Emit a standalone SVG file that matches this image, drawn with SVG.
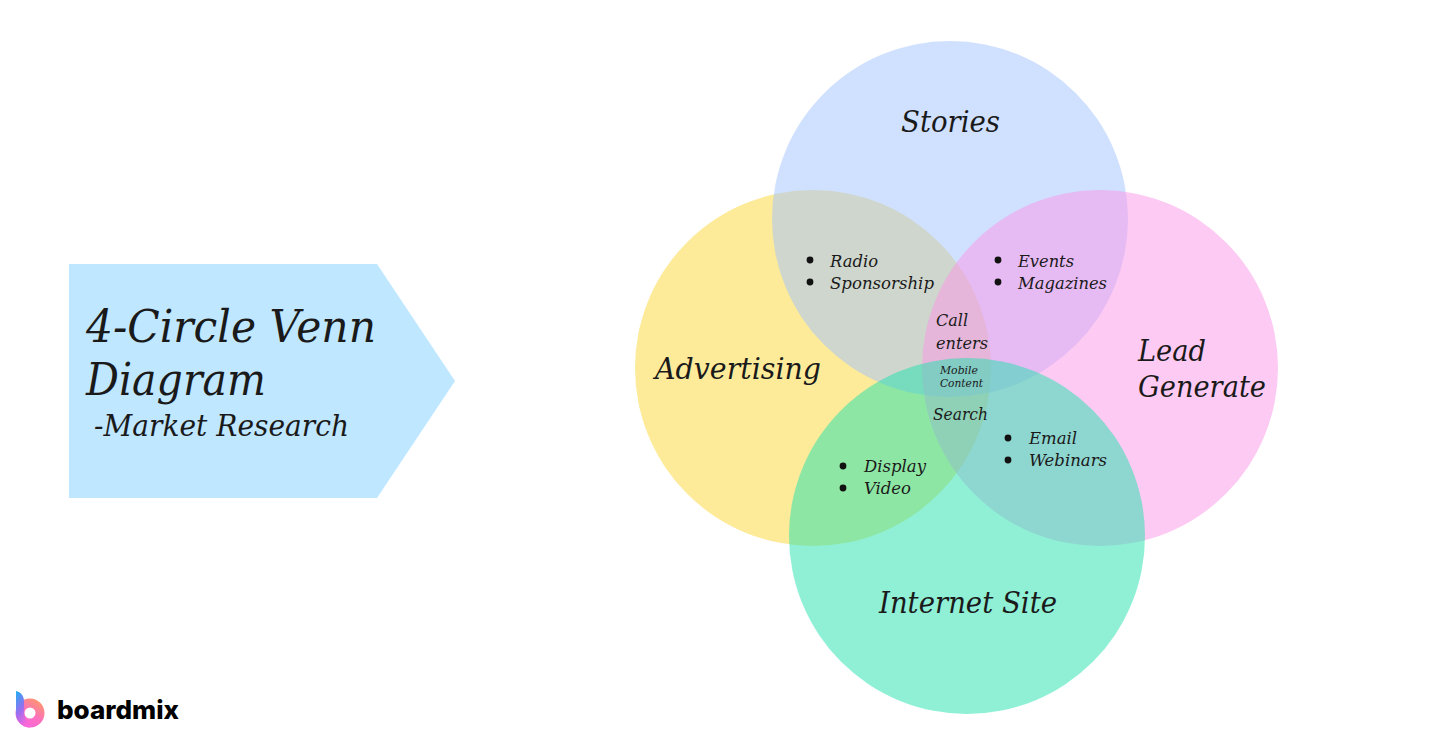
<svg xmlns="http://www.w3.org/2000/svg" width="1440" height="744" viewBox="0 0 1440 744">
<style>
text{font-family:"DejaVu Serif","Liberation Serif",serif;font-style:italic;fill:#1a1a1a}
.c{opacity:.5}
.b{fill:#111}
.l{font-size:30px}.m{font-size:16px}
.logo{font-family:"Inter","Liberation Sans",sans-serif;font-style:normal;font-weight:800;font-size:26px;fill:#000}
</style>
<defs>
<linearGradient id="g1" x1="0" y1="0" x2="0.5" y2="1"><stop offset="0" stop-color="#1fb0f5"/><stop offset=".55" stop-color="#9a6cf0"/><stop offset="1" stop-color="#f968d8"/></linearGradient>
<linearGradient id="g2" gradientUnits="userSpaceOnUse" x1="40" y1="700" x2="22" y2="726"><stop offset="0" stop-color="#ff9a6a"/><stop offset=".55" stop-color="#fc6ec0"/><stop offset="1" stop-color="#f968e0"/></linearGradient>
</defs>
<rect width="1440" height="744" fill="#fff"/>
<g id="title">
<path d="M69 264H377L455 381L377 498H69Z" fill="#bfe7ff"/>
<text x="86" y="342" font-size="44" textLength="290" lengthAdjust="spacingAndGlyphs">4-Circle Venn</text>
<text x="86" y="395" font-size="44" textLength="180" lengthAdjust="spacingAndGlyphs">Diagram</text>
<text x="94" y="436" font-size="30" textLength="255" lengthAdjust="spacingAndGlyphs">-Market Research</text>
</g>
<g id="circles">
<circle id="c-advertising" class="c" cx="813" cy="368" r="178" fill="#fcd736"/>
<circle id="c-stories" class="c" cx="950" cy="219" r="178" fill="#a1c2ff"/>
<circle id="c-lead" class="c" cx="1100" cy="368" r="178" fill="#fb96e8"/>
<circle id="c-internet" class="c" cx="967" cy="536" r="178" fill="#1fe2ad"/>
</g>
<g id="stories"><text class="l" x="901" y="132" textLength="99" lengthAdjust="spacingAndGlyphs">Stories</text></g>
<g id="advertising"><text class="l" x="655" y="379" textLength="166" lengthAdjust="spacingAndGlyphs">Advertising</text></g>
<g id="lead"><text class="l" x="1138" y="361" textLength="68" lengthAdjust="spacingAndGlyphs">Lead</text><text class="l" x="1138" y="397" textLength="128" lengthAdjust="spacingAndGlyphs">Generate</text></g>
<g id="internet"><text class="l" x="879" y="613" textLength="178" lengthAdjust="spacingAndGlyphs">Internet Site</text></g>
<g id="stories-advertising">
<circle class="b" cx="810" cy="260" r="3.4"/><circle class="b" cx="810" cy="282" r="3.4"/>
<text class="m" x="830" y="267" textLength="48" lengthAdjust="spacingAndGlyphs">Radio</text>
<text class="m" x="830" y="289" textLength="104" lengthAdjust="spacingAndGlyphs">Sponsorship</text>
</g>
<g id="stories-lead">
<circle class="b" cx="998" cy="260" r="3.4"/><circle class="b" cx="998" cy="282" r="3.4"/>
<text class="m" x="1018" y="267" textLength="56" lengthAdjust="spacingAndGlyphs">Events</text>
<text class="m" x="1018" y="289" textLength="89" lengthAdjust="spacingAndGlyphs">Magazines</text>
</g>
<g id="lead-internet">
<circle class="b" cx="1008" cy="438" r="3.4"/><circle class="b" cx="1008" cy="460" r="3.4"/>
<text class="m" x="1029" y="444" textLength="48" lengthAdjust="spacingAndGlyphs">Email</text>
<text class="m" x="1029" y="466" textLength="78" lengthAdjust="spacingAndGlyphs">Webinars</text>
</g>
<g id="advertising-internet">
<circle class="b" cx="843" cy="466" r="3.4"/><circle class="b" cx="843" cy="488" r="3.4"/>
<text class="m" x="864" y="472" textLength="62" lengthAdjust="spacingAndGlyphs">Display</text>
<text class="m" x="864" y="494" textLength="47" lengthAdjust="spacingAndGlyphs">Video</text>
</g>
<g id="center">
<text class="m" x="936" y="326" textLength="32" lengthAdjust="spacingAndGlyphs">Call</text>
<text class="m" x="936" y="349" textLength="52" lengthAdjust="spacingAndGlyphs">enters</text>
<text x="940" y="374" font-size="11" textLength="38" lengthAdjust="spacingAndGlyphs">Mobile</text>
<text x="940" y="387" font-size="11" textLength="43" lengthAdjust="spacingAndGlyphs">Content</text>
<text class="m" x="933" y="420" textLength="55" lengthAdjust="spacingAndGlyphs">Search</text>
</g>
<g id="logo">
<circle cx="30" cy="713" r="10" fill="none" stroke="url(#g2)" stroke-width="9"/>
<path d="M16 691C21 692 24 696 24 701V713C24 717 26 721 30 723V727.500C22 727.500 16 721 16 713Z" fill="url(#g1)"/>
<text class="logo" x="57" y="719" textLength="122" lengthAdjust="spacingAndGlyphs">boardmix</text>
</g>
<g id="connectors"/>
</svg>
